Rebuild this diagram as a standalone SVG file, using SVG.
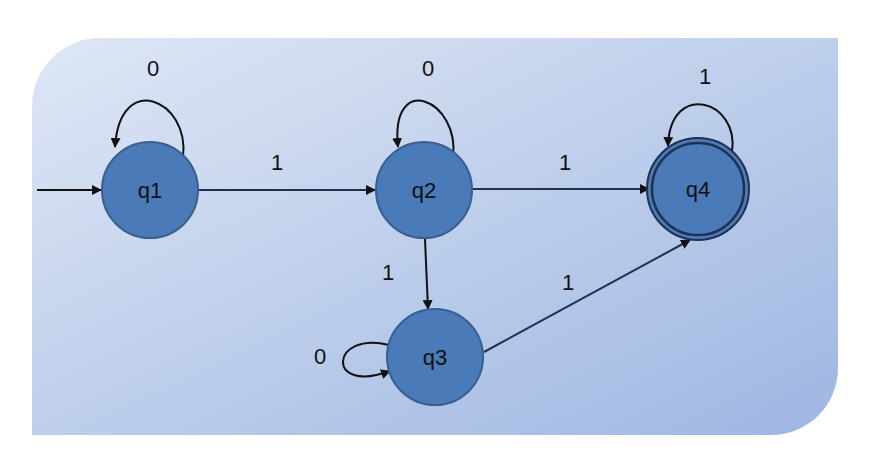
<svg xmlns="http://www.w3.org/2000/svg" width="873" height="472" viewBox="0 0 873 472">
<defs>
<linearGradient id="bg" x1="0" y1="0" x2="1" y2="1">
<stop offset="0" stop-color="#dfe7f5"/><stop offset="1" stop-color="#9db6e2"/>
</linearGradient>
<marker id="ah" viewBox="0 0 10 10" refX="9" refY="5" markerWidth="5" markerHeight="5" orient="auto"><path d="M0,0L10,5L0,10z" fill="#111"/></marker>
</defs>
<style>
.n{fill:#4a7ab8;stroke:#3a5f8e;stroke-width:2}
.t{font-family:"Liberation Sans",Arial,sans-serif;font-size:22px;fill:#111;text-anchor:middle}
.e{fill:none;stroke:#111;stroke-width:2;marker-end:url(#ah)}
.l{fill:none;stroke:#1f3050;stroke-width:2;marker-end:url(#ah)}
</style>
<rect width="873" height="472" fill="#fff"/>
<path d="M100,38H838V368A67,67 0 0 1 771,435H32V106A68,68 0 0 1 100,38Z" fill="url(#bg)"/>
<g id="connectors">
<path class="e" d="M37,190H101"/>
<path class="l" d="M199,190H375"/>
<path class="l" d="M473,189H649"/>
<path class="e" d="M425,239L428,309"/>
<path class="l" d="M484,352L690,240"/>
<path class="e" d="M183,157C190,100 120,70 115,147"/>
<path class="e" d="M453,157C460,100 390,70 398,147"/>
<path class="e" d="M732,152C740,100 670,80 668,146"/>
<path class="e" d="M389,345C330,330 325,395 390,371"/>
</g>
<g class="t">
<text x="153" y="76">0</text><text x="428" y="76">0</text><text x="705" y="84">1</text>
<text x="277" y="170">1</text><text x="565" y="170">1</text><text x="388" y="280">1</text><text x="568" y="290">1</text><text x="320" y="364">0</text>
</g>
<g id="q1"><circle class="n" cx="150" cy="190" r="48"/><text class="t" x="150" y="198">q1</text></g>
<g id="q2"><circle class="n" cx="424" cy="190" r="48"/><text class="t" x="424" y="198">q2</text></g>
<g id="q3"><circle class="n" cx="435" cy="357" r="48"/><text class="t" x="435" y="365">q3</text></g>
<g id="q4"><circle cx="698" cy="189" r="51" fill="#4a7ab8" stroke="#1f3050" stroke-width="2"/><circle cx="698" cy="189" r="46" fill="#4a7ab8" stroke="#1f3050" stroke-width="2.5"/><text class="t" x="698" y="197">q4</text></g>
</svg>
